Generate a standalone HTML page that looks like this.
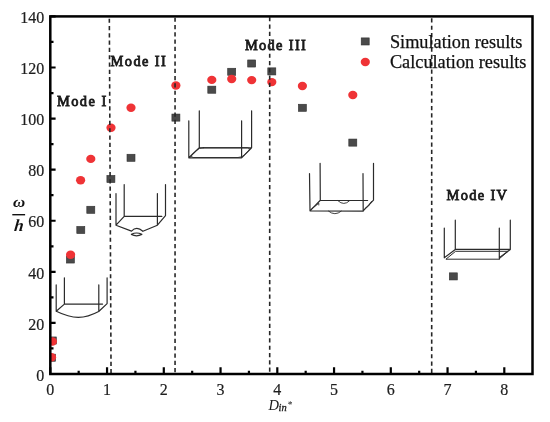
<!DOCTYPE html><html><head><meta charset="utf-8"><style>html,body{margin:0;padding:0;background:#fff;}svg{display:block;}</style></head><body>
<svg width="550" height="422" viewBox="0 0 550 422">
<rect width="550" height="422" fill="#fff"/>
<defs><clipPath id="pc"><rect x="50.3" y="16.4" width="482.2" height="357.6"/></clipPath></defs>
<g fill="none" stroke="#2b2b2b" stroke-width="1.2" stroke-linejoin="round" stroke-linecap="round"><path d="M64.4 277.8 V304.1 H102.6 M107.1 277.8 V303.6 L99 311.3 M56.2 284.9 V311.3 L64.4 304.1 M98.8 284.9 V311.3 M56.3 311.3 C63 314.6 71 317.4 78.3 317.4 C85.5 317.4 93 314.6 99.2 311.3"/><path d="M124.2 184.6 V216.3 H161.9 M165.5 184.6 V215.6 L157.4 225.2 M116 193.5 V225.2 L124.2 216.3 M157.4 193.5 V225.2 M116 225.2 L131.5 231.1 Q136.7 225.6 142.9 231.3 L157.4 225.2"/><path d="M131.4 234.4 Q136.5 231.6 141.8 234.4 Q136.5 237.2 131.4 234.4 Z"/><path d="M199.3 110.8 V147.8 H251.6 M251.6 110.8 V147.8 L241.6 157.8 M188.8 120.8 V157.8 L199.3 147.8 M241.6 120.8 V157.8 M188.8 157.8 H241.6"/><path d="M203.3 147.7 H247.6 Q251.2 148.4 248.8 150.5 L244.5 154.7 Q242.6 157.4 238 157.5 H193.2 Q189.6 156.8 192 154.7 L196.5 150.5 Q198.5 147.8 203.3 147.7 Z" stroke-width="0.9"/><path d="M320.1 163.3 L320.3 200.5 H367.6 M373.5 163.3 V200.2 L363.2 210.8 M309.5 173.5 L310 210.8 L320.1 200.5 M363 173.5 L363.2 210.8 M310 210.8 L363.2 211.2"/><path d="M338.2 200.9 Q343.8 206.2 349.4 200.9 M328.6 211.2 Q334.9 216.4 341.2 211.2 M311.5 209 L318.8 203.2 V205 M371.5 201.5 Q369 207 365 208.5" stroke-width="0.9"/><path d="M455.3 220.2 V249.4 H510.3 M510.3 220.2 V249.4 L499.3 257.8 M444.3 228 V257.8 L455.3 249.4 M499.3 228 V259.2"/><path d="M456 251.3 H508 L498.8 259.2 H446.3 Z" stroke-width="1"/></g>
<g clip-path="url(#pc)">
<rect x="48.30" y="336.95" width="8.0" height="7.1" fill="#4a4a4a" stroke="#303030" stroke-width="0.6"/>
<rect x="47.50" y="354.15" width="8.0" height="7.1" fill="#4a4a4a" stroke="#303030" stroke-width="0.6"/>
<rect x="66.40" y="255.95" width="8.0" height="7.1" fill="#4a4a4a" stroke="#303030" stroke-width="0.6"/>
<rect x="76.80" y="226.45" width="8.0" height="7.1" fill="#4a4a4a" stroke="#303030" stroke-width="0.6"/>
<rect x="86.80" y="206.25" width="8.0" height="7.1" fill="#4a4a4a" stroke="#303030" stroke-width="0.6"/>
<rect x="106.90" y="175.45" width="8.0" height="7.1" fill="#4a4a4a" stroke="#303030" stroke-width="0.6"/>
<rect x="127.00" y="154.25" width="8.0" height="7.1" fill="#4a4a4a" stroke="#303030" stroke-width="0.6"/>
<rect x="171.90" y="114.05" width="8.0" height="7.1" fill="#4a4a4a" stroke="#303030" stroke-width="0.6"/>
<rect x="207.80" y="86.15" width="8.0" height="7.1" fill="#4a4a4a" stroke="#303030" stroke-width="0.6"/>
<rect x="227.70" y="68.25" width="8.0" height="7.1" fill="#4a4a4a" stroke="#303030" stroke-width="0.6"/>
<rect x="247.70" y="59.95" width="8.0" height="7.1" fill="#4a4a4a" stroke="#303030" stroke-width="0.6"/>
<rect x="267.80" y="67.85" width="8.0" height="7.1" fill="#4a4a4a" stroke="#303030" stroke-width="0.6"/>
<rect x="298.40" y="104.25" width="8.0" height="7.1" fill="#4a4a4a" stroke="#303030" stroke-width="0.6"/>
<rect x="348.80" y="139.05" width="8.0" height="7.1" fill="#4a4a4a" stroke="#303030" stroke-width="0.6"/>
<rect x="449.30" y="272.85" width="8.0" height="7.1" fill="#4a4a4a" stroke="#303030" stroke-width="0.6"/>
<ellipse cx="52.4" cy="341.5" rx="4.6" ry="4.2" fill="#ef3336"/>
<ellipse cx="51.5" cy="357.3" rx="4.6" ry="4.2" fill="#ef3336"/>
<ellipse cx="70.6" cy="254.7" rx="4.6" ry="4.2" fill="#ef3336"/>
<ellipse cx="80.6" cy="180.2" rx="4.6" ry="4.2" fill="#ef3336"/>
<ellipse cx="90.8" cy="158.9" rx="4.6" ry="4.2" fill="#ef3336"/>
<ellipse cx="111" cy="127.8" rx="4.6" ry="4.2" fill="#ef3336"/>
<ellipse cx="131" cy="107.8" rx="4.6" ry="4.2" fill="#ef3336"/>
<ellipse cx="175.9" cy="85.5" rx="4.6" ry="4.2" fill="#ef3336"/>
<ellipse cx="211.8" cy="79.9" rx="4.6" ry="4.2" fill="#ef3336"/>
<ellipse cx="231.7" cy="79" rx="4.6" ry="4.2" fill="#ef3336"/>
<ellipse cx="251.7" cy="80.1" rx="4.6" ry="4.2" fill="#ef3336"/>
<ellipse cx="271.8" cy="82.1" rx="4.6" ry="4.2" fill="#ef3336"/>
<ellipse cx="302.4" cy="86" rx="4.6" ry="4.2" fill="#ef3336"/>
<ellipse cx="352.8" cy="95" rx="4.6" ry="4.2" fill="#ef3336"/>
</g>
<g font-family="Liberation Serif, serif" font-weight="normal" font-size="14.4" fill="#1a1a1a" stroke="#1a1a1a" stroke-width="0.8">
<text x="56.9" y="105.7" textLength="49.3" lengthAdjust="spacing">Mode I</text>
<text x="110.6" y="65.6" textLength="55.2" lengthAdjust="spacing">Mode II</text>
<text x="244.9" y="49.5" textLength="60.9" lengthAdjust="spacing">Mode III</text>
<text x="446.5" y="199.7" textLength="60.5" lengthAdjust="spacing">Mode IV</text>
</g>
<line x1="109.3" y1="11.35" x2="111.05" y2="374.0" stroke="#262626" stroke-width="1.6" stroke-dasharray="4.2 3.1" clip-path="url(#pc)"/>
<line x1="175.05" y1="10.35" x2="175.05" y2="374.0" stroke="#262626" stroke-width="1.6" stroke-dasharray="4.2 3.1" clip-path="url(#pc)"/>
<line x1="269.7" y1="9.85" x2="269.7" y2="374.0" stroke="#262626" stroke-width="1.6" stroke-dasharray="4.2 3.1" clip-path="url(#pc)"/>
<line x1="431.7" y1="11.049999999999999" x2="431.7" y2="374.0" stroke="#262626" stroke-width="1.6" stroke-dasharray="4.2 3.1" clip-path="url(#pc)"/>
<g stroke="#000" stroke-width="2.5" fill="none">
<rect x="50.3" y="16.4" width="482.2" height="357.6"/>
<path d="M50.30 374.0 V367.20 M78.67 374.0 V370.70 M107.05 374.0 V367.20 M135.43 374.0 V370.70 M163.80 374.0 V367.20 M192.18 374.0 V370.70 M220.55 374.0 V367.20 M248.93 374.0 V370.70 M277.30 374.0 V367.20 M305.68 374.0 V370.70 M334.05 374.0 V367.20 M362.43 374.0 V370.70 M390.80 374.0 V367.20 M419.18 374.0 V370.70 M447.55 374.0 V367.20 M475.93 374.0 V370.70 M504.30 374.0 V367.20 M50.3 374.00 H55.60 M50.3 348.46 H53.50 M50.3 322.91 H55.60 M50.3 297.37 H53.50 M50.3 271.83 H55.60 M50.3 246.28 H53.50 M50.3 220.74 H55.60 M50.3 195.20 H53.50 M50.3 169.66 H55.60 M50.3 144.11 H53.50 M50.3 118.57 H55.60 M50.3 93.03 H53.50 M50.3 67.48 H55.60 M50.3 41.94 H53.50 M50.3 16.40 H55.60 " stroke-width="2.2"/>
</g>
<g font-family="Liberation Serif, serif" font-size="16" fill="#1e1e1e" stroke="#1e1e1e" stroke-width="0.2">
<text x="50.30" y="394.8" text-anchor="middle">0</text>
<text x="107.05" y="394.8" text-anchor="middle">1</text>
<text x="163.80" y="394.8" text-anchor="middle">2</text>
<text x="220.55" y="394.8" text-anchor="middle">3</text>
<text x="277.30" y="394.8" text-anchor="middle">4</text>
<text x="334.05" y="394.8" text-anchor="middle">5</text>
<text x="390.80" y="394.8" text-anchor="middle">6</text>
<text x="447.55" y="394.8" text-anchor="middle">7</text>
<text x="504.30" y="394.8" text-anchor="middle">8</text>
<text x="44.2" y="380.70" text-anchor="end">0</text>
<text x="44.2" y="329.61" text-anchor="end">20</text>
<text x="44.2" y="278.53" text-anchor="end">40</text>
<text x="44.2" y="227.44" text-anchor="end">60</text>
<text x="44.2" y="176.36" text-anchor="end">80</text>
<text x="44.2" y="125.27" text-anchor="end">100</text>
<text x="44.2" y="74.18" text-anchor="end">120</text>
<text x="44.2" y="23.10" text-anchor="end">140</text>
</g>
<text x="268.6" y="409.9" font-family="Liberation Serif, serif" font-style="italic" font-size="14.5" fill="#1a1a1a">D<tspan x="278.6" font-size="10.5" dy="1.3" stroke="#1a1a1a" stroke-width="0.3">in</tspan><tspan x="287.5" font-size="9" dy="-4.6" font-weight="bold" fill="#333">*</tspan></text>
<g font-family="Liberation Serif, serif" font-style="italic" font-weight="bold" fill="#111">
<text x="13.0" y="206.9" font-size="15.2" textLength="12.2" lengthAdjust="spacingAndGlyphs">ω</text>
<rect x="12.3" y="214" width="12.8" height="1.4" fill="#111"/>
<text x="0" y="0" font-size="17" text-anchor="middle" transform="translate(18.4 230.6) skewX(-6)">h</text>
</g>
<g font-family="Liberation Serif, serif" font-size="18" fill="#111" stroke="#111" stroke-width="0.25">
<rect x="361.2" y="37.9" width="8.0" height="7.1" fill="#4a4a4a" stroke="#303030" stroke-width="0.6"/>
<ellipse cx="365.3" cy="62" rx="4.6" ry="4.2" fill="#ef3336" stroke="none"/>
<text x="389.9" y="47.7" font-size="18.3">Simulation results</text>
<text x="389.9" y="68.4" font-size="18.3">Calculation results</text>
</g>
</svg></body></html>
